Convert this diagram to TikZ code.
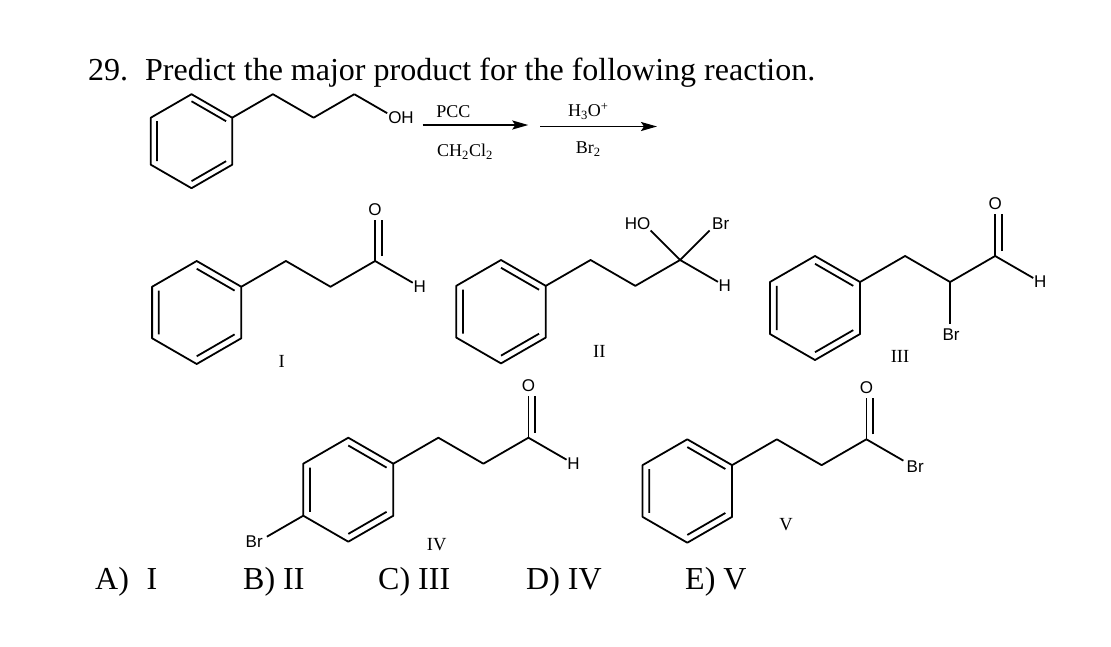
\documentclass[tikz,border=0pt]{standalone}
\usepackage{fontspec}
\setmainfont{Liberation Serif}
\newfontfamily\labelfont{Liberation Sans}
\usepackage{tikz}
\usetikzlibrary{arrows.meta,calc}
\newcommand{\newRing}[3]{%
  \foreach \k/\ang in {1/-90,2/-30,3/30,4/90,5/150,6/210}
    {\coordinate (#1\k) at ($(#2)+(\ang:#3)$);}
  \draw[bond] (#11) -- (#12) -- (#13) -- (#14) -- (#15) -- (#16) -- cycle;
  \draw[bond] ($(#11)!.15!(#2)$) -- ($(#12)!.15!(#2)$)
              ($(#13)!.15!(#2)$) -- ($(#14)!.15!(#2)$)
              ($(#15)!.15!(#2)$) -- ($(#16)!.15!(#2)$);}
\newcommand{\newBond}[3]{\draw[bond,#3] (#1) -- (#2);}
\newcommand{\newCarbonyl}[2]{%
  \draw[bond,shorten >=10pt] (#1) -- (#2);
  \draw[bond,shorten >=10pt,shorten <=5pt] ($(#1)+(6.5,0)$) -- ($(#2)+(6.5,0)$);}

\begin{document}
\begin{tikzpicture}[
    % one unit is one pixel, y runs downwards
    x=1pt,y=-1pt,
    % Default arrow tip
    >={Stealth[length=16pt,width=9pt,inset=3pt]},
    bond/.style={line width=1.8pt,line join=round},
    atom/.style={font=\labelfont\fontsize{17}{17}\selectfont,inner sep=0pt},
    tag/.style={font=\fontsize{18.5}{18.5}\selectfont,inner sep=0pt},
    reagent/.style={font=\fontsize{18}{20}\selectfont,inner sep=0pt},
    big/.style={font=\fontsize{32}{36}\selectfont,inner sep=0pt,anchor=base west}
    ]
    \fill[white] (0,0) rectangle (1111,646);
    \useasboundingbox (0,0) rectangle (1111,646);

    \node[big] (num) at (88,80) {29.};
    \node[big] (question) at (145,80) {Predict the major product for the following reaction.};

    % starting alcohol
    \coordinate (s) at (191.5,141.2);
    \newRing{s}{s}{47}
    \coordinate (s7) at ($(s2)+(-30:47)$);
    \coordinate (s8) at ($(s7)+(30:47)$);
    \coordinate (s9) at ($(s8)+(-30:47)$);
    \coordinate (sO) at ($(s9)+(30:47)$);
    \node[atom] (sOH) at ($(sO)+(6,0)$) {OH};
    \draw[bond] (s2) -- (s7) -- (s8) -- (s9);
    \newBond{s9}{sO}{shorten >=9pt}

    % reagents
    \coordinate (arrA1) at (422.7,125);
    \coordinate (arrA2) at (528.3,125);
    \coordinate (arrB1) at (540,126.5);
    \coordinate (arrB2) at (657,126.5);
    \draw[->,line width=1.8pt] (arrA1) -- (arrA2);
    \draw[->,line width=1.8pt] (arrB1) -- (arrB2);
    \node[reagent] (pcc) at (453.3,111.7) {PCC};
    \node[reagent] (dcm) at (465,152) {CH\textsubscript{2}Cl\textsubscript{2}};
    \node[reagent] (hyd) at (588.3,111.5) {H\textsubscript{3}O\textsuperscript{+}};
    \node[reagent] (brom) at (588.3,149.3) {Br\textsubscript{2}};

    % I
    \coordinate (a) at (196.7,312.5);
    \newRing{a}{a}{51.5}
    \coordinate (a7) at ($(a2)+(-30:51.5)$);
    \coordinate (a8) at ($(a7)+(30:51.5)$);
    \coordinate (a9) at ($(a8)+(-30:51.5)$);
    \coordinate (aO) at ($(a9)+(-90:51.5)$);
    \coordinate (aH) at ($(a9)+(30:51.5)$);
    \draw[bond] (a2) -- (a7) -- (a8) -- (a9);
    \newCarbonyl{a9}{aO}
    \newBond{a9}{aH}{shorten >=8pt}
    \node[atom] (aOl) at (aO) {O};
    \node[atom] (aHl) at (aH) {H};
    \node[tag] (aName) at (281.7,361.7) {I};

    % II
    \coordinate (b) at (501,311.7);
    \newRing{b}{b}{51.7}
    \coordinate (b7) at ($(b2)+(-30:51.7)$);
    \coordinate (b8) at ($(b7)+(30:51.7)$);
    \coordinate (b9) at ($(b8)+(-30:51.7)$);
    \coordinate (bO) at ($(b9)+(-135:51.7)$);
    \coordinate (bBr) at ($(b9)+(-45:51.7)$);
    \coordinate (bH) at ($(b9)+(30:51.7)$);
    \draw[bond] (b2) -- (b7) -- (b8) -- (b9);
    \newBond{b9}{bO}{shorten >=10pt}
    \newBond{b9}{bBr}{shorten >=10pt}
    \newBond{b9}{bH}{shorten >=8pt}
    \node[atom] (bOl) at ($(bO)+(-6,0)$) {HO};
    \node[atom] (bBrl) at ($(bBr)+(4,0)$) {Br};
    \node[atom] (bHl) at (bH) {H};
    \node[tag] (bName) at (599.3,351.7) {II};

    % III
    \coordinate (c) at (815,308);
    \newRing{c}{c}{52}
    \coordinate (c7) at ($(c2)+(-30:52)$);
    \coordinate (c8) at ($(c7)+(30:52)$);
    \coordinate (c9) at ($(c8)+(-30:52)$);
    \coordinate (cO) at ($(c9)+(-90:52)$);
    \coordinate (cH) at ($(c9)+(30:52)$);
    \coordinate (cBr) at ($(c8)+(90:52)$);
    \draw[bond] (c2) -- (c7) -- (c8) -- (c9);
    \newCarbonyl{c9}{cO}
    \newBond{c9}{cH}{shorten >=8pt}
    \newBond{c8}{cBr}{shorten >=10pt}
    \node[atom] (cOl) at (cO) {O};
    \node[atom] (cHl) at (cH) {H};
    \node[atom] (cBrl) at ($(cBr)+(1,1)$) {Br};
    \node[tag] (cName) at (900,356.7) {III};

    % IV
    \coordinate (d) at (348.3,489.7);
    \newRing{d}{d}{52}
    \coordinate (d7) at ($(d2)+(-30:52)$);
    \coordinate (d8) at ($(d7)+(30:52)$);
    \coordinate (d9) at ($(d8)+(-30:52)$);
    \coordinate (dO) at ($(d9)+(-90:52)$);
    \coordinate (dH) at ($(d9)+(30:52)$);
    \coordinate (dBr) at ($(d5)+(150:52)$);
    \draw[bond] (d2) -- (d7) -- (d8) -- (d9);
    \newCarbonyl{d9}{dO}
    \newBond{d9}{dH}{shorten >=8pt}
    \newBond{d5}{dBr}{shorten >=10pt}
    \node[atom] (dOl) at (dO) {O};
    \node[atom] (dHl) at (dH) {H};
    \node[atom] (dBrl) at ($(dBr)+(-4,0)$) {Br};
    \node[tag] (dName) at (436.7,545) {IV};

    % V
    \coordinate (e) at (687.3,491);
    \newRing{e}{e}{51.7}
    \coordinate (e7) at ($(e2)+(-30:51.7)$);
    \coordinate (e8) at ($(e7)+(30:51.7)$);
    \coordinate (e9) at ($(e8)+(-30:51.7)$);
    \coordinate (eO) at ($(e9)+(-90:51.7)$);
    \coordinate (eBr) at ($(e9)+(30:51.7)$);
    \draw[bond] (e2) -- (e7) -- (e8) -- (e9);
    \newCarbonyl{e9}{eO}
    \newBond{e9}{eBr}{shorten >=9pt}
    \node[atom] (eOl) at (eO) {O};
    \node[atom] (eBrl) at ($(eBr)+(4,1)$) {Br};
    \node[tag] (eName) at (786,525) {V};

    % answers
    \node[big] (ansA) at (95,589) {A)\hspace{0.55em}I};
    \node[big] (ansB) at (243,589) {B) II};
    \node[big] (ansC) at (378,589) {C) III};
    \node[big] (ansD) at (526,589) {D) IV};
    \node[big] (ansE) at (685,589) {E) V};
  \end{tikzpicture}
\end{document}
